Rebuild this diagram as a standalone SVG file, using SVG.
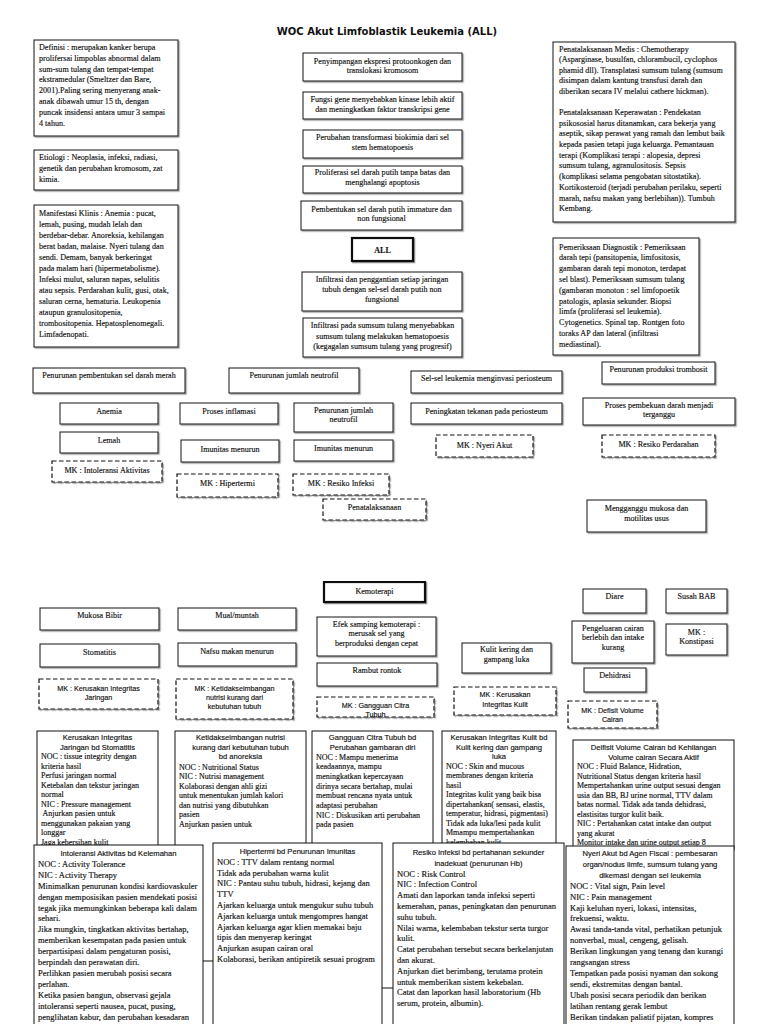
<svg xmlns="http://www.w3.org/2000/svg" width="768" height="1024" viewBox="0 0 768 1024">
<defs>
<filter id="sh" x="-5%" y="-5%" width="115%" height="120%">
<feDropShadow dx="1.2" dy="1.2" stdDeviation="0.4" flood-color="#777" flood-opacity="0.8"/>
</filter>
<clipPath id="cpCitra"><rect x="317" y="697" width="117" height="20"/></clipPath>
</defs>
<style>
.b{fill:#fff;stroke:#111;stroke-width:1;filter:url(#sh)}
.k{fill:#fff;stroke:#111;stroke-width:2.2;filter:url(#sh)}
.d{fill:#fff;stroke:#111;stroke-width:1.2;stroke-dasharray:4.5 2.5;filter:url(#sh)}
.p{fill:#fff;stroke:#111;stroke-width:1}
text{font-family:"Liberation Serif","Times New Roman",serif;font-size:8.1px;fill:#111;stroke:#111;stroke-width:0.15}
.c{text-anchor:middle}
.s{font-family:"Liberation Sans",Arial,sans-serif;font-size:7.2px}
.r1{font-size:8px}
.r2{font-size:8.5px}
.h{font-family:"Liberation Sans",Arial,sans-serif;font-size:7.6px}
.bd{font-weight:bold}
.title{font-family:"DejaVu Sans",Verdana,sans-serif;font-size:10px;font-weight:bold;text-anchor:middle;stroke:none}
</style>
<rect width="768" height="1024" fill="#fff"/>
<text class="title" x="387" y="35">WOC Akut Limfoblastik Leukemia (ALL)</text>

<g id="definisi">
<rect class="b" x="34" y="40" width="144" height="96"/>
<text x="39" y="50">Definisi : merupakan kanker berupa<tspan x="39" dy="10.8">prolifersai limpoblas abnormal dalam</tspan><tspan x="39" dy="10.8">sum-sum tulang dan tempat-tempat</tspan><tspan x="39" dy="10.8">ekstramedular (Smeltzer dan Bare,</tspan><tspan x="39" dy="10.8">2001).Paling sering menyerang anak-</tspan><tspan x="39" dy="10.8">anak dibawah umur 15 th, dengan</tspan><tspan x="39" dy="10.8">puncak insidensi antara umur 3 sampai</tspan><tspan x="39" dy="10.8">4 tahun.</tspan></text>
</g>
<g id="etiologi">
<rect class="b" x="34" y="150" width="144" height="40"/>
<text x="39" y="159.5">Etiologi : Neoplasia, infeksi, radiasi,<tspan x="39" dy="11">genetik dan perubahan kromosom, zat</tspan><tspan x="39" dy="11">kimia.</tspan></text>
</g>
<g id="manifestasi">
<rect class="b" x="34" y="205" width="144" height="142"/>
<text x="39" y="216">Manifestasi Klinis : Anemia : pucat,<tspan x="39" dy="11">lemah, pusing, mudah lelah dan</tspan><tspan x="39" dy="11">berdebar-debar. Anoreksia, kehilangan</tspan><tspan x="39" dy="11">berat badan, malaise. Nyeri tulang dan</tspan><tspan x="39" dy="11">sendi. Demam, banyak berkeringat</tspan><tspan x="39" dy="11">pada malam hari (hipermetabolisme).</tspan><tspan x="39" dy="11">Infeksi mulut, saluran napas, selulitis</tspan><tspan x="39" dy="11">atau sepsis. Perdarahan kulit, gusi, otak,</tspan><tspan x="39" dy="11">saluran cerna, hematuria. Leukopenia</tspan><tspan x="39" dy="11">ataupun granulositopenia,</tspan><tspan x="39" dy="11">trombositopenia. Hepatosplenomegali.</tspan><tspan x="39" dy="11">Limfadenopati.</tspan></text>
</g>

<g id="penyimpangan">
<rect class="b" x="303" y="53" width="159" height="28"/>
<text class="c" x="382.5" y="64">Penyimpangan ekspresi protoonkogen dan<tspan x="382.5" dy="9">translokasi kromosom</tspan></text>
</g>
<g id="fungsi-gen">
<rect class="b" x="303" y="92" width="159" height="27"/>
<text class="c" x="382.5" y="102">Fungsi gene menyebabkan kinase lebih aktif<tspan x="382.5" dy="9.5">dan meningkatkan faktor transkripsi gene</tspan></text>
</g>
<g id="perubahan">
<rect class="b" x="303" y="130" width="159" height="28"/>
<text class="c" x="382.5" y="140">Perubahan transformasi biokimia dari sel<tspan x="382.5" dy="9.5">stem hematopoesis</tspan></text>
</g>
<g id="proliferasi">
<rect class="b" x="303" y="166" width="159" height="27"/>
<text class="c" x="382.5" y="175">Proliferasi sel darah putih tanpa batas dan<tspan x="382.5" dy="10">menghalangi apoptosis</tspan></text>
</g>
<g id="pembentukan">
<rect class="b" x="301" y="201" width="161" height="29"/>
<text class="c" x="381.5" y="211.5">Pembentukan sel darah putih immature dan<tspan x="381.5" dy="9.5">non fungsional</tspan></text>
</g>
<g id="all">
<rect class="k" x="352" y="238" width="61" height="23"/>
<text class="c bd" x="382.5" y="252.5">ALL</text>
</g>
<g id="infiltrasi1">
<rect class="b" x="302" y="272" width="160" height="39"/>
<text class="c" x="382" y="281.5">Infiltrasi dan penggantian setiap jaringan<tspan x="382" dy="10">tubuh dengan sel-sel darah putih non</tspan><tspan x="382" dy="10">fungsional</tspan></text>
</g>
<g id="infiltrasi2">
<rect class="b" x="303" y="318" width="159" height="39"/>
<text class="c" x="382.5" y="328">Infiltrasi pada sumsum tulang menyebabkan<tspan x="382.5" dy="10.5">sumsum tulang melakukan hematopoesis</tspan><tspan x="382.5" dy="10.5">(kegagalan sumsum tulang yang progresif)</tspan></text>
</g>

<g id="penatalaksanaan-info">
<rect class="b" x="553" y="42" width="182" height="180"/>
<text x="559" y="51.5">Penatalaksanaan Medis : Chemotherapy<tspan x="559" dy="10.5">(Asparginase, busulfan, chlorambucil, cyclophos</tspan><tspan x="559" dy="10.5">phamid dll). Transplatasi sumsum tulang (sumsum</tspan><tspan x="559" dy="10.5">disimpan dalam kantung transfusi darah dan</tspan><tspan x="559" dy="10.5">diberikan secara IV melalui cathere hickman).</tspan><tspan x="559" dy="21.5">Penatalaksanaan Keperawatan : Pendekatan</tspan><tspan x="559" dy="10.7">psikososial harus ditanamkan, cara bekerja yang</tspan><tspan x="559" dy="10.7">aseptik, sikap perawat yang ramah dan lembut baik</tspan><tspan x="559" dy="10.7">kepada pasien tetapi juga keluarga. Pemantauan</tspan><tspan x="559" dy="10.7">terapi (Komplikasi terapi : alopesia, depresi</tspan><tspan x="559" dy="10.7">sumsum tulang, agranulositosis. Sepsis</tspan><tspan x="559" dy="10.7">(komplikasi selama pengobatan sitostatika).</tspan><tspan x="559" dy="10.7">Kortikosteroid (terjadi perubahan perilaku, seperti</tspan><tspan x="559" dy="10.7">marah, nafsu makan yang berlebihan)). Tumbuh</tspan><tspan x="559" dy="10.7">Kembang.</tspan></text>
</g>
<g id="pemeriksaan">
<rect class="b" x="553" y="238" width="146" height="117"/>
<text x="559" y="249.5">Pemeriksaan Diagnostik : Pemeriksaan<tspan x="559" dy="10.8">darah tepi (pansitopenia, limfositosis,</tspan><tspan x="559" dy="10.8">gambaran darah tepi monoton, terdapat</tspan><tspan x="559" dy="10.8">sel blast). Pemeriksaan sumsum tulang</tspan><tspan x="559" dy="10.8">(gambaran monoton : sel limfopoetik</tspan><tspan x="559" dy="10.8">patologis, aplasia sekunder. Biopsi</tspan><tspan x="559" dy="10.8">limfa (proliferasi sel leukemia).</tspan><tspan x="559" dy="10.8">Cytogenetics. Spinal tap. Rontgen foto</tspan><tspan x="559" dy="10.8">toraks AP dan lateral (infiltrasi</tspan><tspan x="559" dy="10.8">mediastinal).</tspan></text>
</g>

<g id="penurunan-eritrosit">
<rect class="b" x="33" y="368" width="152" height="25"/>
<text class="c" x="109" y="378">Penurunan pembentukan sel darah merah</text>
</g>
<g id="penurunan-neutrofil-1">
<rect class="b" x="229" y="368" width="130" height="25"/>
<text class="c" x="294" y="378">Penurunan jumlah neutrofil</text>
</g>
<g id="invasi-periosteum">
<rect class="b" x="411" y="371" width="151" height="22"/>
<text class="c" x="486.5" y="381">Sel-sel leukemia menginvasi periosteum</text>
</g>
<g id="penurunan-trombosit">
<rect class="b" x="602" y="362" width="113" height="22"/>
<text class="c" x="658.5" y="371.5">Penurunan produksi trombosit</text>
</g>

<g id="anemia">
<rect class="b" x="60" y="403" width="98" height="21"/>
<text class="c" x="109" y="413.5">Anemia</text>
</g>
<g id="inflamasi">
<rect class="b" x="180" y="403" width="98" height="21"/>
<text class="c" x="229" y="413.5">Proses inflamasi</text>
</g>
<g id="penurunan-neutrofil-2">
<rect class="b" x="294" y="403" width="99" height="29"/>
<text class="c" x="343.5" y="412.5">Penurunan jumlah<tspan x="343.5" dy="9.5">neutrofil</tspan></text>
</g>
<g id="tekanan-periosteum">
<rect class="b" x="411" y="403" width="151" height="21"/>
<text class="c" x="486.5" y="413.5">Peningkatan tekanan pada periosteum</text>
</g>
<g id="pembekuan">
<rect class="b" x="583" y="398" width="152" height="27"/>
<text class="c" x="659" y="407.5">Proses pembekuan darah menjadi<tspan x="659" dy="9.8">terganggu</tspan></text>
</g>

<g id="lemah">
<rect class="b" x="60" y="432" width="98" height="21"/>
<text class="c" x="109" y="442.5">Lemah</text>
</g>
<g id="imunitas-1">
<rect class="b" x="181" y="440" width="98" height="22"/>
<text class="c" x="230" y="451.5">Imunitas menurun</text>
</g>
<g id="imunitas-2">
<rect class="b" x="294" y="440" width="99" height="21"/>
<text class="c" x="343.5" y="450.5">Imunitas menurun</text>
</g>
<g id="mk-nyeri">
<rect class="d" x="436" y="435" width="97" height="22"/>
<text class="c" x="484.5" y="447.5">MK : Nyeri Akut</text>
</g>
<g id="mk-perdarahan">
<rect class="d" x="602" y="435" width="113" height="22"/>
<text class="c" x="658.5" y="446.5">MK : Resiko Perdarahan</text>
</g>
<g id="mk-intoleransi">
<rect class="d" x="52" y="461" width="110" height="21"/>
<text class="c" x="107" y="472.5">MK : Intoleransi Aktivitas</text>
</g>
<g id="mk-hipertermi">
<rect class="d" x="177" y="474" width="101" height="23"/>
<text class="c" x="227.5" y="486">MK : Hipertermi</text>
</g>
<g id="mk-infeksi">
<rect class="d" x="293" y="474" width="96" height="21"/>
<text class="c" x="341" y="485.5">MK : Resiko Infeksi</text>
</g>
<g id="penatalaksanaan">
<rect class="d" x="323" y="499" width="103" height="21"/>
<text class="c" x="374.5" y="510">Penatalaksanaan</text>
</g>
<g id="mukosa-usus">
<rect class="b" x="587" y="500" width="119" height="32"/>
<text class="c" x="646.5" y="511">Mengganggu mukosa dan<tspan x="646.5" dy="10">motilitas usus</tspan></text>
</g>

<g id="kemoterapi">
<rect class="k" x="324" y="582" width="101" height="20"/>
<text class="c" x="374.5" y="594">Kemoterapi</text>
</g>
<g id="mukosa-bibir">
<rect class="b" x="40" y="608" width="119" height="22"/>
<text class="c" x="99.5" y="617.5">Mukosa Bibir</text>
</g>
<g id="mual">
<rect class="b" x="178" y="608" width="118" height="22"/>
<text class="c" x="237" y="617.5">Mual/muntah</text>
</g>
<g id="efek-samping">
<rect class="b" x="317" y="617" width="119" height="39"/>
<text class="c" x="376.5" y="626.5">Efek samping kemoterapi :<tspan x="376.5" dy="9.5">merusak sel yang</tspan><tspan x="376.5" dy="9.5">berproduksi dengan cepat</tspan></text>
</g>
<g id="kulit-kering">
<rect class="b" x="462" y="643" width="89" height="30"/>
<text class="c" x="506.5" y="652">Kulit kering dan<tspan x="506.5" dy="10">gampang luka</tspan></text>
</g>
<g id="diare">
<rect class="b" x="583" y="589" width="63" height="24"/>
<text class="c" x="614.5" y="599">Diare</text>
</g>
<g id="susah-bab">
<rect class="b" x="666" y="589" width="61" height="24"/>
<text class="c" x="696.5" y="599">Susah BAB</text>
</g>
<g id="pengeluaran-cairan">
<rect class="b" x="572" y="621" width="82" height="42"/>
<text class="c" x="613" y="630.5">Pengeluaran cairan<tspan x="613" dy="9.5">berlebih dan intake</tspan><tspan x="613" dy="9.5">kurang</tspan></text>
</g>
<g id="mk-konstipasi">
<rect class="b" x="666" y="624" width="61" height="31"/>
<text class="c" x="696.5" y="634.5">MK :<tspan x="696.5" dy="9.5">Konstipasi</tspan></text>
</g>
<g id="stomatitis">
<rect class="b" x="40" y="644" width="119" height="23"/>
<text class="c" x="99.5" y="654.5">Stomatitis</text>
</g>
<g id="nafsu-makan">
<rect class="b" x="178" y="643" width="118" height="23"/>
<text class="c" x="237" y="654">Nafsu makan menurun</text>
</g>
<g id="rambut-rontok">
<rect class="b" x="317" y="663" width="120" height="23"/>
<text class="c" x="377" y="672.5">Rambut rontok</text>
</g>
<g id="dehidrasi">
<rect class="b" x="584" y="668" width="62" height="24"/>
<text class="c" x="615" y="677.5">Dehidrasi</text>
</g>
<g id="mk-kerusakan-jaringan">
<rect class="d" x="39" y="679" width="119" height="30"/>
<text class="c s" x="98.5" y="690.5">MK : Kerusakan Integritas<tspan x="98.5" dy="9">Jaringan</tspan></text>
</g>
<g id="mk-nutrisi">
<rect class="d" x="176" y="679" width="117" height="40"/>
<text class="c s" x="234.5" y="690.5">MK : Ketidakseimbangan<tspan x="234.5" dy="9.2">nutrisi kurang dari</tspan><tspan x="234.5" dy="9.2">kebutuhan tubuh</tspan></text>
</g>
<g id="mk-citra">
<rect class="d" x="317" y="697" width="117" height="20"/>
<text class="c s" x="375.5" y="707.5" clip-path="url(#cpCitra)">MK : Gangguan Citra<tspan x="375.5" dy="9.5">Tubuh</tspan></text>
</g>
<g id="mk-kerusakan-kulit">
<rect class="d" x="454" y="687" width="102" height="28"/>
<text class="c s" x="505" y="697">MK : Kerusakan<tspan x="505" dy="10">Integritas Kulit</tspan></text>
</g>
<g id="mk-defisit">
<rect class="d" x="568" y="701" width="89" height="27"/>
<text class="c s" x="612.5" y="712.5">MK : Defisit Volume<tspan x="612.5" dy="9">Cairan</tspan></text>
</g>

<g id="detail-kerusakan-jaringan">
<rect class="p" x="37" y="731" width="121" height="120"/>
<text class="c h" x="97.5" y="740">Kerusakan Integritas<tspan x="97.5" dy="9.5">Jaringan bd Stomatitis</tspan></text>
<text class="r1" x="41" y="759">NOC : tissue integrity dengan<tspan x="41" dy="9.5">kriteria hasil</tspan><tspan x="41" dy="9.5">Perfusi jaringan normal</tspan><tspan x="41" dy="9.5">Ketebalan dan tekstur jaringan</tspan><tspan x="41" dy="9.5">normal</tspan><tspan x="41" dy="9.5">NIC : Pressure management</tspan><tspan x="41" dy="9.5"> Anjurkan pasien untuk</tspan><tspan x="41" dy="9.5">menggunakan pakaian yang</tspan><tspan x="41" dy="9.5">longgar</tspan><tspan x="41" dy="9.5">Jaga kebersihan kulit</tspan></text>
</g>
<g id="detail-nutrisi">
<rect class="p" x="175" y="731" width="131" height="230"/>
<text class="c h" x="240.5" y="740">Ketidakseimbangan nutrisi<tspan x="240.5" dy="9.7">kurang dari kebutuhan tubuh</tspan><tspan x="240.5" dy="9.7">bd anoreksia</tspan></text>
<text class="r1" x="179" y="769.5">NOC : Nutritional Status<tspan x="179" dy="9.5">NIC : Nutrisi management</tspan><tspan x="179" dy="9.5">Kolaborasi dengan ahli gizi</tspan><tspan x="179" dy="9.5">untuk menentukan jumlah kalori</tspan><tspan x="179" dy="9.5">dan nutrisi yang dibutuhkan</tspan><tspan x="179" dy="9.5">pasien</tspan><tspan x="179" dy="9.5">Anjurkan pasien untuk</tspan></text>
</g>
<g id="detail-citra">
<rect class="p" x="312" y="731" width="121" height="257"/>
<text class="c h" x="372.5" y="740">Gangguan Citra Tubuh bd<tspan x="372.5" dy="9.7">Perubahan gambaran diri</tspan></text>
<text class="r1" x="316" y="759.5">NOC : Mampu menerima<tspan x="316" dy="9.7">keadaannya, mampu</tspan><tspan x="316" dy="9.7">meningkatkan kepercayaan</tspan><tspan x="316" dy="9.7">dirinya secara bertahap, mulai</tspan><tspan x="316" dy="9.7">membuat rencana nyata untuk</tspan><tspan x="316" dy="9.7">adaptasi perubahan</tspan><tspan x="316" dy="9.7">NIC : Diskusikan arti perubahan</tspan><tspan x="316" dy="9.7">pada pasien</tspan></text>
</g>
<g id="detail-kerusakan-kulit">
<rect class="p" x="442" y="731" width="114" height="120"/>
<text class="c h" x="499" y="740">Kerusakan Integritas Kulit bd<tspan x="499" dy="9.5">Kulit kering dan gampang</tspan><tspan x="499" dy="9.5">luka</tspan></text>
<text class="r1" x="446" y="768.5">NOC : Skin and mucous<tspan x="446" dy="9.5">membranes dengan kriteria</tspan><tspan x="446" dy="9.5">hasil</tspan><tspan x="446" dy="9.5">Integritas kulit yang baik bisa</tspan><tspan x="446" dy="9.5">dipertahankan( sensasi, elastis,</tspan><tspan x="446" dy="9.5">temperatur, hidrasi, pigmentasi)</tspan><tspan x="446" dy="9.5">Tidak ada luka/lesi pada kulit</tspan><tspan x="446" dy="9.5">Mmampu mempertahankan</tspan><tspan x="446" dy="9.5">kelembaban kulit</tspan></text>
</g>
<g id="detail-defisit">
<rect class="p" x="573" y="740" width="161" height="110"/>
<text class="c h" x="653.5" y="750">Deifisit Volume Cairan bd Kehilangan<tspan x="653.5" dy="9.5">Volume cairan Secara Aktif</tspan></text>
<text class="r1" x="577" y="769">NOC : Fluid Balance, Hidration,<tspan x="577" dy="9.5">Nutritional Status dengan kriteria hasil</tspan><tspan x="577" dy="9.5">Mempertahankan urine output sesuai dengan</tspan><tspan x="577" dy="9.5">usia dan BB, BJ urine normal, TTV dalam</tspan><tspan x="577" dy="9.5">batas normal. Tidak ada tanda dehidrasi,</tspan><tspan x="577" dy="9.5">elastisitas turgor kulit baik.</tspan><tspan x="577" dy="9.5">NIC : Pertahankan catat intake dan output</tspan><tspan x="577" dy="9.5">yang akurat</tspan><tspan x="577" dy="9.5">Monitor intake dan urine output setiap 8</tspan></text>
</g>

<g id="detail-intoleransi">
<rect class="p" x="34" y="845" width="169" height="200"/>
<text class="c h" x="118.5" y="856">Intoleransi Aktivitas bd Kelemahan</text>
<text class="r2" x="38" y="866.9">NOC : Activity Tolerance<tspan x="38" dy="10.9">NIC       : Activity Therapy</tspan><tspan x="38" dy="10.9">Minimalkan penurunan kondisi kardiovaskuler</tspan><tspan x="38" dy="10.9">dengan memposisikan pasien mendekati posisi</tspan><tspan x="38" dy="10.9">tegak jika memungkinkan beberapa kali dalam</tspan><tspan x="38" dy="10.9">sehari.</tspan><tspan x="38" dy="10.9">Jika mungkin, tingkatkan aktivitas bertahap,</tspan><tspan x="38" dy="10.9">memberikan kesempatan pada pasien untuk</tspan><tspan x="38" dy="10.9">berpartisipasi dalam pengaturan posisi,</tspan><tspan x="38" dy="10.9">berpindah dan perawatan diri.</tspan><tspan x="38" dy="10.9">Perlihkan pasien merubah posisi secara</tspan><tspan x="38" dy="10.9">perlahan.</tspan><tspan x="38" dy="10.9">Ketika pasien bangun, observasi gejala</tspan><tspan x="38" dy="10.9">intoleransi seperti nausea, pucat, pusing,</tspan><tspan x="38" dy="10.9">penglihatan kabur, dan perubahan kesadaran</tspan></text>
</g>
<g id="detail-hipertermi">
<rect class="p" x="213" y="843" width="169" height="200"/>
<text class="c h" x="297.5" y="854">Hipertermi bd Penurunan Imunitas</text>
<text class="r2" x="217" y="864.8">NOC : TTV dalam rentang normal<tspan x="217" dy="10.8">Tidak ada perubahan warna kulit</tspan><tspan x="217" dy="10.8">NIC : Pantau suhu tubuh, hidrasi, kejang dan</tspan><tspan x="217" dy="10.8">TTV</tspan><tspan x="217" dy="10.8">Ajarkan keluarga untuk mengukur suhu tubuh</tspan><tspan x="217" dy="10.8">Ajarkan keluarga untuk mengompres hangat</tspan><tspan x="217" dy="10.8">Ajarkan keluarga agar klien memakai baju</tspan><tspan x="217" dy="10.8">tipis dan menyerap keringat</tspan><tspan x="217" dy="10.8">Anjurkan asupan cairan oral</tspan><tspan x="217" dy="10.8">Kolaborasi, berikan antipiretik sesuai program</tspan></text>
</g>
<g id="detail-infeksi">
<rect class="p" x="393" y="843" width="171" height="200"/>
<text class="c h" x="478.5" y="855">Resiko Infeksi bd pertahanan sekunder<tspan x="478.5" dy="10.8">inadekuat (penurunan Hb)</tspan></text>
<text class="r2" x="397" y="876.6">NOC : Risk Control<tspan x="397" dy="10.8">NIC : Infection Control</tspan><tspan x="397" dy="10.8">Amati dan laporkan tanda infeksi seperti</tspan><tspan x="397" dy="10.8">kemerahan, panas, peningkatan dan penurunan</tspan><tspan x="397" dy="10.8">suhu tubuh.</tspan><tspan x="397" dy="10.8">Nilai warna, kelembaban tekstur serta turgor</tspan><tspan x="397" dy="10.8">kulit.</tspan><tspan x="397" dy="10.8">Catat perubahan tersebut secara berkelanjutan</tspan><tspan x="397" dy="10.8">dan akurat.</tspan><tspan x="397" dy="10.8">Anjurkan diet berimbang, terutama protein</tspan><tspan x="397" dy="10.8">untuk memberikan sistem kekebalan.</tspan><tspan x="397" dy="10.8">Catat dan laporkan hasil laboratorium (Hb</tspan><tspan x="397" dy="10.8">serum, protein, albumin).</tspan></text>
</g>
<g id="detail-nyeri">
<rect class="p" x="566" y="846" width="168" height="200"/>
<text class="c h" x="650" y="856">Nyeri Akut bd Agen Fiscal : pembesaran<tspan x="650" dy="10.9">organ/nodus limfe, sumsum tulang yang</tspan><tspan x="650" dy="10.9">dikemasi dengan sel leukemia</tspan></text>
<text class="r2" x="570" y="888.7">NOC :  Vital sign, Pain level<tspan x="570" dy="10.9">NIC : Pain management</tspan><tspan x="570" dy="10.9">Kaji keluhan nyeri, lokasi, intensitas,</tspan><tspan x="570" dy="10.9">frekuensi, waktu.</tspan><tspan x="570" dy="10.9">Awasi tanda-tanda vital, perhatikan petunjuk</tspan><tspan x="570" dy="10.9">nonverbal, mual, cengeng, gelisah.</tspan><tspan x="570" dy="10.9">Berikan lingkungan yang tenang dan kurangi</tspan><tspan x="570" dy="10.9">rangsangan stress</tspan><tspan x="570" dy="10.9">Tempatkan pada posisi nyaman dan sokong</tspan><tspan x="570" dy="10.9">sendi, ekstremitas dengan bantal.</tspan><tspan x="570" dy="10.9">Ubah posisi secara periodik dan berikan</tspan><tspan x="570" dy="10.9">latihan rentang gerak lembut</tspan><tspan x="570" dy="10.9">Berikan tindakan paliatif pijatan, kompres</tspan></text>
</g>
<g id="connectors"></g>
</svg>
